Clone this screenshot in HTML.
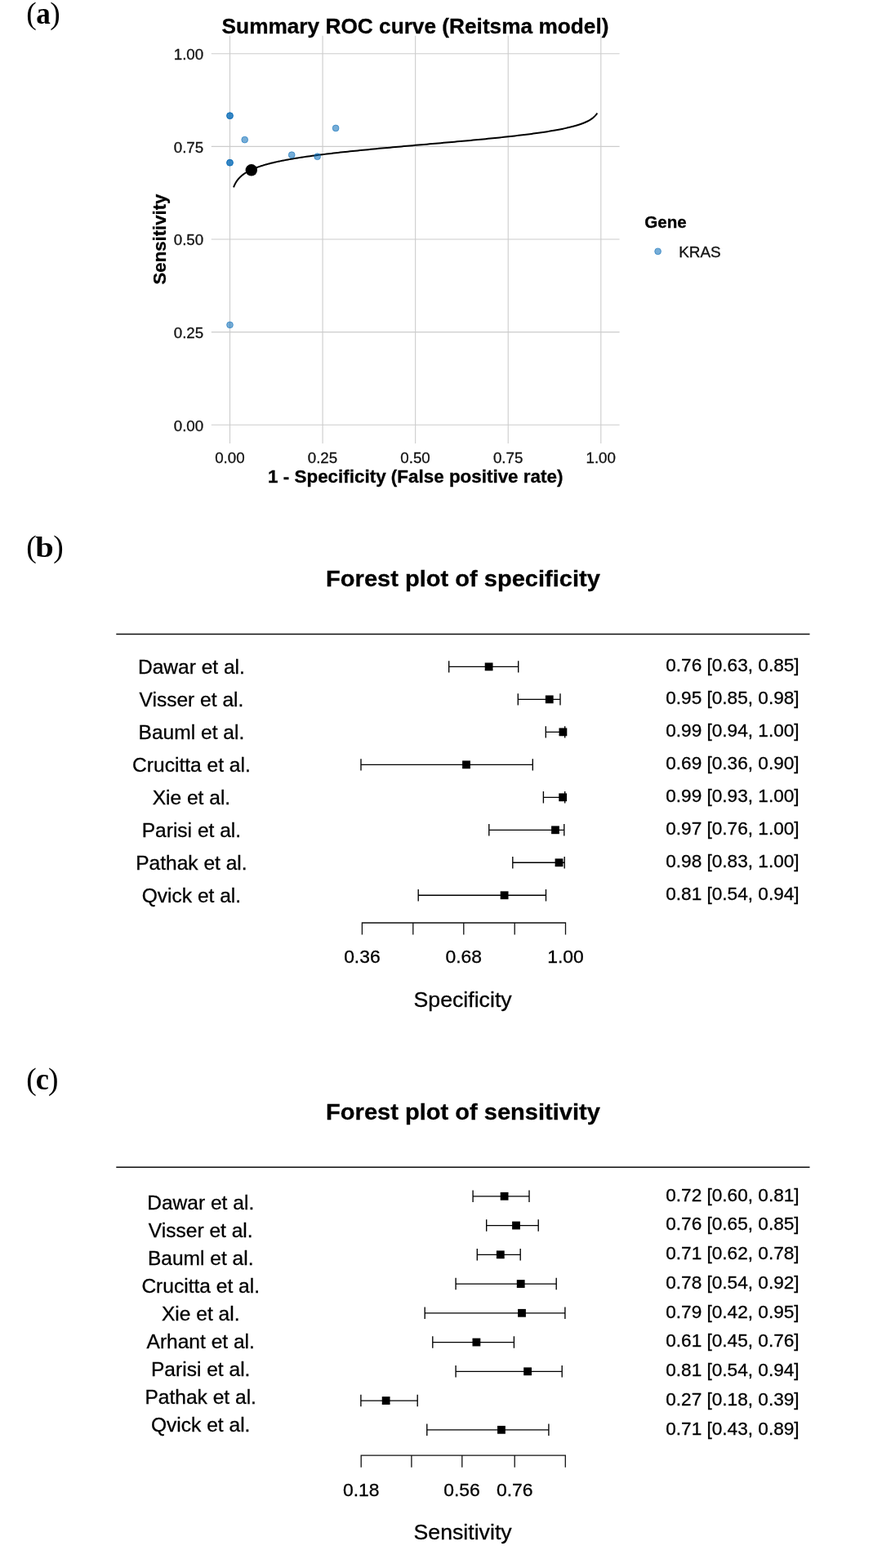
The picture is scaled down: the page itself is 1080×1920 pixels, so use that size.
<!DOCTYPE html>
<html lang="en"><head><meta charset="utf-8"><title>Figure</title>
<style>
html,body{margin:0;padding:0;background:#fff;}
body{width:1080px;height:1920px;overflow:hidden;}
svg{display:block;}
text{font-family:"Liberation Sans",Arial,Helvetica,sans-serif;fill:#000;stroke:#000;stroke-width:0.3px;}
.b{font-weight:bold;}
.pl{font-family:"Liberation Serif","DejaVu Serif",serif;stroke:none;}
.tick{fill:#111;stroke:#111;}
</style></head><body>
<svg width="1080" height="1920" viewBox="0 0 1080 1920">

<text class="pl" transform="translate(32.3,28.8)" font-size="37.5">(</text>
<text class="pl b" transform="translate(44.2,29.1) scale(0.95,1)" font-size="37">a</text>
<text class="pl" transform="translate(73.7,28.8)" font-size="37.5" text-anchor="end">)</text>
<text class="pl" transform="translate(32.3,681.9)" font-size="37.5">(</text>
<text class="pl b" transform="translate(43.35,682.2) scale(1.11,1)" font-size="36.5">b</text>
<text class="pl" transform="translate(77.65,681.9)" font-size="37.5" text-anchor="end">)</text>
<text class="pl" transform="translate(32.3,1333.9)" font-size="37.5">(</text>
<text class="pl b" transform="translate(43.7,1334.2) scale(0.985,1)" font-size="37">c</text>
<text class="pl" transform="translate(71.55,1333.9)" font-size="37.5" text-anchor="end">)</text>
<g stroke="#cccccc" stroke-width="1.1" fill="none">
<line x1="281.5" y1="43.7" x2="281.5" y2="543"/>
<line x1="258.8" y1="520.3" x2="758.6" y2="520.3"/>
<line x1="395.07" y1="43.7" x2="395.07" y2="543"/>
<line x1="258.8" y1="406.67" x2="758.6" y2="406.67"/>
<line x1="508.65" y1="43.7" x2="508.65" y2="543"/>
<line x1="258.8" y1="293.05" x2="758.6" y2="293.05"/>
<line x1="622.23" y1="43.7" x2="622.23" y2="543"/>
<line x1="258.8" y1="179.42" x2="758.6" y2="179.42"/>
<line x1="735.8" y1="43.7" x2="735.8" y2="543"/>
<line x1="258.8" y1="65.8" x2="758.6" y2="65.8"/>
</g>
<text class="b" transform="translate(508.5,40.8) scale(0.994,1)" font-size="26.4" text-anchor="middle">Summary ROC curve (Reitsma model)</text>
<path fill="none" stroke="#000" stroke-width="2" stroke-linejoin="round" d="M286.04 229.38 L286.18 229.01 L286.33 228.63 L286.48 228.25 L286.63 227.88 L286.79 227.5 L286.95 227.12 L287.12 226.75 L287.29 226.37 L287.47 226 L287.65 225.62 L287.84 225.25 L288.03 224.88 L288.23 224.5 L288.44 224.13 L288.65 223.76 L288.87 223.39 L289.1 223.02 L289.33 222.65 L289.57 222.28 L289.81 221.91 L290.07 221.54 L290.33 221.17 L290.6 220.8 L290.88 220.43 L291.16 220.06 L291.45 219.69 L291.76 219.33 L292.07 218.96 L292.39 218.59 L292.72 218.23 L293.06 217.86 L293.41 217.5 L293.77 217.13 L294.14 216.77 L294.52 216.41 L294.92 216.04 L295.32 215.68 L295.74 215.32 L296.17 214.96 L296.61 214.59 L297.06 214.23 L297.53 213.87 L298.01 213.51 L298.5 213.15 L299.01 212.79 L299.54 212.44 L300.07 212.08 L300.63 211.72 L301.2 211.36 L301.78 211.01 L302.38 210.65 L303 210.29 L303.64 209.94 L304.29 209.58 L304.97 209.23 L305.66 208.87 L306.37 208.52 L307.1 208.17 L307.85 207.82 L308.62 207.46 L309.41 207.11 L310.22 206.76 L311.06 206.41 L311.92 206.06 L312.8 205.71 L313.7 205.36 L314.63 205.01 L315.58 204.66 L316.56 204.32 L317.57 203.97 L318.6 203.62 L319.65 203.28 L320.74 202.93 L321.85 202.58 L322.99 202.24 L324.16 201.9 L325.36 201.55 L326.59 201.21 L327.85 200.87 L329.14 200.52 L330.46 200.18 L331.82 199.84 L333.2 199.5 L334.62 199.16 L336.08 198.82 L337.56 198.48 L339.09 198.14 L340.65 197.8 L342.24 197.47 L343.87 197.13 L345.54 196.79 L347.24 196.46 L348.98 196.12 L350.76 195.78 L352.58 195.45 L354.43 195.12 L356.33 194.78 L358.26 194.45 L360.24 194.12 L362.25 193.78 L364.31 193.45 L366.4 193.12 L368.54 192.79 L370.71 192.46 L372.93 192.13 L375.19 191.8 L377.48 191.47 L379.82 191.15 L382.2 190.82 L384.63 190.49 L387.09 190.17 L389.59 189.84 L392.13 189.52 L394.72 189.19 L397.34 188.87 L400.01 188.54 L402.71 188.22 L405.45 187.9 L408.23 187.58 L411.05 187.25 L413.9 186.93 L416.8 186.61 L419.72 186.29 L422.69 185.97 L425.69 185.66 L428.72 185.34 L431.78 185.02 L434.88 184.7 L438.01 184.39 L441.16 184.07 L444.35 183.75 L447.56 183.44 L450.81 183.13 L454.07 182.81 L457.36 182.5 L460.67 182.19 L464.01 181.87 L467.36 181.56 L470.74 181.25 L474.13 180.94 L477.53 180.63 L480.96 180.32 L484.39 180.01 L487.83 179.7 L491.29 179.4 L494.75 179.09 L498.22 178.78 L501.69 178.48 L505.17 178.17 L508.65 177.87 L512.13 177.56 L515.61 177.26 L519.08 176.95 L522.55 176.65 L526.01 176.35 L529.47 176.05 L532.91 175.75 L536.34 175.45 L539.77 175.15 L543.17 174.85 L546.56 174.55 L549.94 174.25 L553.29 173.95 L556.63 173.65 L559.94 173.36 L563.23 173.06 L566.49 172.77 L569.74 172.47 L572.95 172.18 L576.14 171.88 L579.29 171.59 L582.42 171.3 L585.52 171.01 L588.58 170.71 L591.61 170.42 L594.61 170.13 L597.58 169.84 L600.5 169.55 L603.4 169.27 L606.25 168.98 L609.07 168.69 L611.85 168.4 L614.59 168.12 L617.29 167.83 L619.96 167.55 L622.58 167.26 L625.17 166.98 L627.71 166.69 L630.21 166.41 L632.67 166.13 L635.1 165.85 L637.48 165.56 L639.82 165.28 L642.11 165 L644.37 164.72 L646.59 164.44 L648.76 164.17 L650.9 163.89 L652.99 163.61 L655.05 163.33 L657.06 163.06 L659.04 162.78 L660.97 162.51 L662.87 162.23 L664.72 161.96 L666.54 161.69 L668.32 161.41 L670.06 161.14 L671.76 160.87 L673.43 160.6 L675.06 160.33 L676.65 160.06 L678.21 159.79 L679.74 159.52 L681.22 159.25 L682.68 158.98 L684.1 158.72 L685.48 158.45 L686.84 158.19 L688.16 157.92 L689.45 157.66 L690.71 157.39 L691.94 157.13 L693.14 156.86 L694.31 156.6 L695.45 156.34 L696.56 156.08 L697.65 155.82 L698.7 155.56 L699.73 155.3 L700.74 155.04 L701.72 154.78 L702.67 154.52 L703.6 154.26 L704.5 154.01 L705.38 153.75 L706.24 153.5 L707.08 153.24 L707.89 152.99 L708.68 152.73 L709.45 152.48 L710.2 152.23 L710.93 151.97 L711.64 151.72 L712.33 151.47 L713.01 151.22 L713.66 150.97 L714.3 150.72 L714.92 150.47 L715.52 150.22 L716.1 149.98 L716.67 149.73 L717.23 149.48 L717.76 149.24 L718.29 148.99 L718.8 148.75 L719.29 148.5 L719.77 148.26 L720.24 148.01 L720.69 147.77 L721.13 147.53 L721.56 147.29 L721.98 147.05 L722.38 146.81 L722.78 146.57 L723.16 146.33 L723.53 146.09 L723.89 145.85 L724.24 145.61 L724.58 145.37 L724.91 145.14 L725.23 144.9 L725.54 144.67 L725.85 144.43 L726.14 144.2 L726.42 143.96 L726.7 143.73 L726.97 143.5 L727.23 143.27 L727.49 143.03 L727.73 142.8 L727.97 142.57 L728.2 142.34 L728.43 142.11 L728.65 141.88 L728.86 141.66 L729.07 141.43 L729.27 141.2 L729.46 140.97 L729.65 140.75 L729.83 140.52 L730.01 140.3 L730.18 140.07 L730.35 139.85 L730.51 139.63 L730.67 139.4 L730.82 139.18 L730.97 138.96 L731.12 138.74 L731.26 138.52"/>
<g fill="#0569b6" fill-opacity="0.55" stroke="#0569b6" stroke-opacity="0.55" stroke-width="1">
<circle cx="281.5" cy="141.7" r="3.9"/>
<circle cx="281.5" cy="141.7" r="3.9"/>
<circle cx="299.7" cy="171.1" r="3.9"/>
<circle cx="281.5" cy="199.2" r="3.9"/>
<circle cx="281.5" cy="199.2" r="3.9"/>
<circle cx="357.2" cy="189.7" r="3.9"/>
<circle cx="388.6" cy="191.7" r="3.9"/>
<circle cx="411.1" cy="156.9" r="3.9"/>
<circle cx="281.5" cy="397.8" r="3.9"/>
</g>
<circle cx="307.8" cy="208.3" r="7.2" fill="#000"/>
<text class="tick" transform="translate(249.2,528) scale(1.065,1)" font-size="17.6" text-anchor="end">0.00</text>
<text class="tick" transform="translate(281.4,566.7) scale(1.065,1)" font-size="17.6" text-anchor="middle">0.00</text>
<text class="tick" transform="translate(249.2,414.2) scale(1.065,1)" font-size="17.6" text-anchor="end">0.25</text>
<text class="tick" transform="translate(394.97,566.7) scale(1.065,1)" font-size="17.6" text-anchor="middle">0.25</text>
<text class="tick" transform="translate(249.2,300.4) scale(1.065,1)" font-size="17.6" text-anchor="end">0.50</text>
<text class="tick" transform="translate(508.55,566.7) scale(1.065,1)" font-size="17.6" text-anchor="middle">0.50</text>
<text class="tick" transform="translate(249.2,186.6) scale(1.065,1)" font-size="17.6" text-anchor="end">0.75</text>
<text class="tick" transform="translate(622.12,566.7) scale(1.065,1)" font-size="17.6" text-anchor="middle">0.75</text>
<text class="tick" transform="translate(249.2,72.8) scale(1.065,1)" font-size="17.6" text-anchor="end">1.00</text>
<text class="tick" transform="translate(735.7,566.7) scale(1.065,1)" font-size="17.6" text-anchor="middle">1.00</text>
<text class="b" transform="translate(508.75,591.2) scale(1.058,1)" font-size="21.2" text-anchor="middle">1 - Specificity (False positive rate)</text>
<text class="b" transform="translate(203.3,293) rotate(-90) scale(0.973,1)" font-size="22.8" text-anchor="middle">Sensitivity</text>
<text class="b" transform="translate(789.2,279.2) scale(1.03,1)" font-size="20">Gene</text>
<circle cx="805.6" cy="307.8" r="3.9" fill="#0569b6" fill-opacity="0.55" stroke="#0569b6" stroke-opacity="0.55" stroke-width="1"/>
<text class="tick" transform="translate(831.2,315) scale(1.052,1)" font-size="18">KRAS</text>
<text class="b" transform="translate(567,717.8) scale(1.027,1)" font-size="28.3" text-anchor="middle">Forest plot of specificity</text>
<line x1="142.3" y1="776.5" x2="991.5" y2="776.5" stroke="#0d0d0d" stroke-width="1.55"/>
<text transform="translate(234.4,825.1) scale(1.024,1)" font-size="24" text-anchor="middle">Dawar et al.</text>
<path d="M549.7 816.4H634.7M549.7 809.2V823.6M634.7 809.2V823.6" stroke="#000" stroke-width="1.35" fill="none"/>
<rect x="593.7" y="811.5" width="9.8" height="9.8" fill="#000"/>
<text transform="translate(978.6,822.2) scale(1.028,1)" font-size="22" text-anchor="end">0.76 [0.63, 0.85]</text>
<text transform="translate(234.4,865.1) scale(1.024,1)" font-size="24" text-anchor="middle">Visser et al.</text>
<path d="M634.3 856.38H686M634.3 849.18V863.58M686 849.18V863.58" stroke="#000" stroke-width="1.35" fill="none"/>
<rect x="667.85" y="851.48" width="9.8" height="9.8" fill="#000"/>
<text transform="translate(978.6,862.18) scale(1.028,1)" font-size="22" text-anchor="end">0.95 [0.85, 0.98]</text>
<text transform="translate(234.4,905.1) scale(1.024,1)" font-size="24" text-anchor="middle">Bauml et al.</text>
<path d="M668.3 896.36H691.7M668.3 889.16V903.56M691.7 889.16V903.56" stroke="#000" stroke-width="1.35" fill="none"/>
<rect x="684.5" y="891.46" width="9.8" height="9.8" fill="#000"/>
<text transform="translate(978.6,902.16) scale(1.028,1)" font-size="22" text-anchor="end">0.99 [0.94, 1.00]</text>
<text transform="translate(234.4,945.1) scale(1.024,1)" font-size="24" text-anchor="middle">Crucitta et al.</text>
<path d="M442 936.34H652.3M442 929.14V943.54M652.3 929.14V943.54" stroke="#000" stroke-width="1.35" fill="none"/>
<rect x="566.1" y="931.44" width="9.8" height="9.8" fill="#000"/>
<text transform="translate(978.6,942.14) scale(1.028,1)" font-size="22" text-anchor="end">0.69 [0.36, 0.90]</text>
<text transform="translate(234.4,985.1) scale(1.024,1)" font-size="24" text-anchor="middle">Xie et al.</text>
<path d="M665.4 976.32H691.7M665.4 969.12V983.52M691.7 969.12V983.52" stroke="#000" stroke-width="1.35" fill="none"/>
<rect x="684.3" y="971.42" width="9.8" height="9.8" fill="#000"/>
<text transform="translate(978.6,982.12) scale(1.028,1)" font-size="22" text-anchor="end">0.99 [0.93, 1.00]</text>
<text transform="translate(234.4,1025.1) scale(1.024,1)" font-size="24" text-anchor="middle">Parisi et al.</text>
<path d="M598.8 1016.3H690.8M598.8 1009.1V1023.5M690.8 1009.1V1023.5" stroke="#000" stroke-width="1.35" fill="none"/>
<rect x="675.1" y="1011.4" width="9.8" height="9.8" fill="#000"/>
<text transform="translate(978.6,1022.1) scale(1.028,1)" font-size="22" text-anchor="end">0.97 [0.76, 1.00]</text>
<text transform="translate(234.4,1065.1) scale(1.024,1)" font-size="24" text-anchor="middle">Pathak et al.</text>
<path d="M627.8 1056.28H691.2M627.8 1049.08V1063.48M691.2 1049.08V1063.48" stroke="#000" stroke-width="1.35" fill="none"/>
<rect x="679.6" y="1051.38" width="9.8" height="9.8" fill="#000"/>
<text transform="translate(978.6,1062.08) scale(1.028,1)" font-size="22" text-anchor="end">0.98 [0.83, 1.00]</text>
<text transform="translate(234.4,1105.1) scale(1.024,1)" font-size="24" text-anchor="middle">Qvick et al.</text>
<path d="M512.2 1096.26H668.5M512.2 1089.06V1103.46M668.5 1089.06V1103.46" stroke="#000" stroke-width="1.35" fill="none"/>
<rect x="612.7" y="1091.36" width="9.8" height="9.8" fill="#000"/>
<text transform="translate(978.6,1102.06) scale(1.028,1)" font-size="22" text-anchor="end">0.81 [0.54, 0.94]</text>
<path d="M443.4 1130H692.5M443.4 1130V1143.8M505.8 1130V1143.8M567.8 1130V1143.8M630.2 1130V1143.8M692.5 1130V1143.8" stroke="#111" stroke-width="1.3" stroke-linecap="square" fill="none"/>
<text transform="translate(443.4,1179) scale(1.041,1)" font-size="22" text-anchor="middle">0.36</text>
<text transform="translate(567.8,1179) scale(1.041,1)" font-size="22" text-anchor="middle">0.68</text>
<text transform="translate(692.5,1179) scale(1.041,1)" font-size="22" text-anchor="middle">1.00</text>
<text transform="translate(566.6,1232.9) scale(1.011,1)" font-size="26.4" text-anchor="middle">Specificity</text>
<text class="b" transform="translate(567,1370.5) scale(1.027,1)" font-size="28.3" text-anchor="middle">Forest plot of sensitivity</text>
<line x1="142.3" y1="1429.2" x2="991.5" y2="1429.2" stroke="#0d0d0d" stroke-width="1.55"/>
<text transform="translate(245.7,1480.8) scale(1.024,1)" font-size="24" text-anchor="middle">Dawar et al.</text>
<path d="M579.1 1464.8H648M579.1 1457.6V1472M648 1457.6V1472" stroke="#000" stroke-width="1.35" fill="none"/>
<rect x="612.7" y="1459.9" width="9.8" height="9.8" fill="#000"/>
<text transform="translate(978.6,1470.5) scale(1.028,1)" font-size="22" text-anchor="end">0.72 [0.60, 0.81]</text>
<text transform="translate(245.7,1514.8) scale(1.024,1)" font-size="24" text-anchor="middle">Visser et al.</text>
<path d="M595.7 1500.55H659.2M595.7 1493.35V1507.75M659.2 1493.35V1507.75" stroke="#000" stroke-width="1.35" fill="none"/>
<rect x="627.1" y="1495.65" width="9.8" height="9.8" fill="#000"/>
<text transform="translate(978.6,1506.25) scale(1.028,1)" font-size="22" text-anchor="end">0.76 [0.65, 0.85]</text>
<text transform="translate(245.7,1548.8) scale(1.024,1)" font-size="24" text-anchor="middle">Bauml et al.</text>
<path d="M584.3 1536.3H637.2M584.3 1529.1V1543.5M637.2 1529.1V1543.5" stroke="#000" stroke-width="1.35" fill="none"/>
<rect x="607.9" y="1531.4" width="9.8" height="9.8" fill="#000"/>
<text transform="translate(978.6,1542) scale(1.028,1)" font-size="22" text-anchor="end">0.71 [0.62, 0.78]</text>
<text transform="translate(245.7,1582.8) scale(1.024,1)" font-size="24" text-anchor="middle">Crucitta et al.</text>
<path d="M558.1 1572.05H681.2M558.1 1564.85V1579.25M681.2 1564.85V1579.25" stroke="#000" stroke-width="1.35" fill="none"/>
<rect x="632.8" y="1567.15" width="9.8" height="9.8" fill="#000"/>
<text transform="translate(978.6,1577.75) scale(1.028,1)" font-size="22" text-anchor="end">0.78 [0.54, 0.92]</text>
<text transform="translate(245.7,1616.8) scale(1.024,1)" font-size="24" text-anchor="middle">Xie et al.</text>
<path d="M520.2 1607.8H691.9M520.2 1600.6V1615M691.9 1600.6V1615" stroke="#000" stroke-width="1.35" fill="none"/>
<rect x="634.1" y="1602.9" width="9.8" height="9.8" fill="#000"/>
<text transform="translate(978.6,1613.5) scale(1.028,1)" font-size="22" text-anchor="end">0.79 [0.42, 0.95]</text>
<text transform="translate(245.7,1650.8) scale(1.024,1)" font-size="24" text-anchor="middle">Arhant et al.</text>
<path d="M529.8 1643.55H629.4M529.8 1636.35V1650.75M629.4 1636.35V1650.75" stroke="#000" stroke-width="1.35" fill="none"/>
<rect x="578.5" y="1638.65" width="9.8" height="9.8" fill="#000"/>
<text transform="translate(978.6,1649.25) scale(1.028,1)" font-size="22" text-anchor="end">0.61 [0.45, 0.76]</text>
<text transform="translate(245.7,1684.8) scale(1.024,1)" font-size="24" text-anchor="middle">Parisi et al.</text>
<path d="M558.1 1679.3H688.2M558.1 1672.1V1686.5M688.2 1672.1V1686.5" stroke="#000" stroke-width="1.35" fill="none"/>
<rect x="641.2" y="1674.4" width="9.8" height="9.8" fill="#000"/>
<text transform="translate(978.6,1685) scale(1.028,1)" font-size="22" text-anchor="end">0.81 [0.54, 0.94]</text>
<text transform="translate(245.7,1718.8) scale(1.024,1)" font-size="24" text-anchor="middle">Pathak et al.</text>
<path d="M441.9 1715.05H511.2M441.9 1707.85V1722.25M511.2 1707.85V1722.25" stroke="#000" stroke-width="1.35" fill="none"/>
<rect x="467.75" y="1710.15" width="9.8" height="9.8" fill="#000"/>
<text transform="translate(978.6,1720.75) scale(1.028,1)" font-size="22" text-anchor="end">0.27 [0.18, 0.39]</text>
<text transform="translate(245.7,1752.8) scale(1.024,1)" font-size="24" text-anchor="middle">Qvick et al.</text>
<path d="M522.8 1750.8H671.9M522.8 1743.6V1758M671.9 1743.6V1758" stroke="#000" stroke-width="1.35" fill="none"/>
<rect x="609.05" y="1745.9" width="9.8" height="9.8" fill="#000"/>
<text transform="translate(978.6,1756.5) scale(1.028,1)" font-size="22" text-anchor="end">0.71 [0.43, 0.89]</text>
<path d="M442.2 1782.2H692.3M442.2 1782.2V1796M503.9 1782.2V1796M565.8 1782.2V1796M630.2 1782.2V1796M692.3 1782.2V1796" stroke="#111" stroke-width="1.3" stroke-linecap="square" fill="none"/>
<text transform="translate(442.2,1831.5) scale(1.041,1)" font-size="22" text-anchor="middle">0.18</text>
<text transform="translate(565.5,1831.5) scale(1.041,1)" font-size="22" text-anchor="middle">0.56</text>
<text transform="translate(630.3,1831.5) scale(1.041,1)" font-size="22" text-anchor="middle">0.76</text>
<text transform="translate(566.6,1885) scale(1.011,1)" font-size="26.4" text-anchor="middle">Sensitivity</text>
</svg></body></html>
